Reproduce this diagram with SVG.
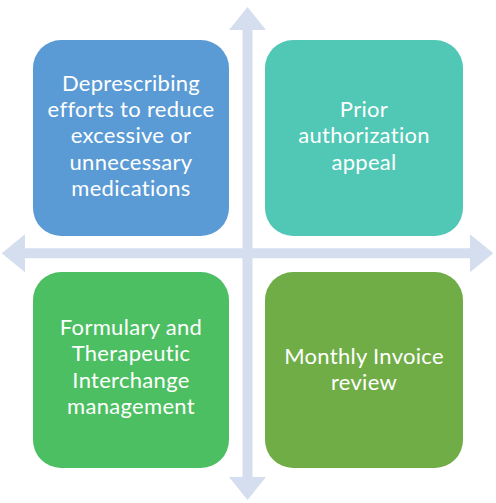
<svg xmlns="http://www.w3.org/2000/svg" width="496" height="503" viewBox="0 0 496 503">
<style>
.axis{fill:#D5DEEF;stroke:none}
.box{stroke:none}
.lbl{font-family:Lato,"Open Sans","Liberation Sans",sans-serif;font-size:22px;letter-spacing:0.3px;fill:#FFFFFF;text-anchor:middle}
</style>
<rect width="496" height="503" fill="#FFFFFF"/>
<g id="connectors">
<path class="axis" d="M247.5,7 L266,30 L252.5,30 L252.5,477 L266,477 L247.5,500 L229,477 L242.5,477 L242.5,30 L229,30 Z"/>
<path class="axis" d="M1.7,253.3 L25,234.3 L25,248.3 L470,248.3 L470,234.3 L493.3,253.3 L470,272.3 L470,258.3 L25,258.3 L25,272.3 Z"/>
</g>
<g id="node-deprescribing">
<rect class="box" x="33" y="40" width="196" height="196" rx="28" fill="#5B9BD5"/>
<text class="lbl" x="131" y="90.7">Deprescribing</text>
<text class="lbl" x="131" y="117">efforts to reduce</text>
<text class="lbl" x="131" y="143.3">excessive or</text>
<text class="lbl" x="131" y="169.6">unnecessary</text>
<text class="lbl" x="131" y="196">medications</text>
</g>
<g id="node-prior-auth">
<rect class="box" x="265" y="40" width="198" height="196" rx="28" fill="#50C8B5"/>
<text class="lbl" x="364" y="117">Prior</text>
<text class="lbl" x="364" y="143.3">authorization</text>
<text class="lbl" x="364" y="169.6">appeal</text>
</g>
<g id="node-formulary">
<rect class="box" x="33" y="272" width="196" height="196" rx="28" fill="#4CBF62"/>
<text class="lbl" x="131" y="335">Formulary and</text>
<text class="lbl" x="131" y="361.3">Therapeutic</text>
<text class="lbl" x="131" y="387.6">Interchange</text>
<text class="lbl" x="131" y="414">management</text>
</g>
<g id="node-invoice">
<rect class="box" x="265" y="272" width="198" height="196" rx="28" fill="#70AD47"/>
<text class="lbl" x="364" y="364">Monthly Invoice</text>
<text class="lbl" x="364" y="390">review</text>
</g>
</svg>
